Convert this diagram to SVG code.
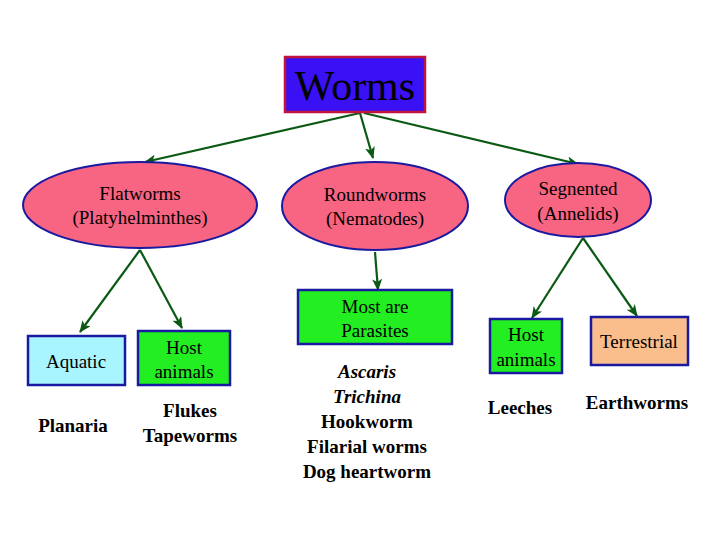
<svg xmlns="http://www.w3.org/2000/svg" width="720" height="540" viewBox="0 0 720 540">
<style>
text{font-family:"Liberation Serif",serif;fill:#000;text-anchor:middle}
.n{font-size:19px}
.b{font-size:19px;font-weight:bold}
.e{fill:#F76582;stroke:#1a1aa0;stroke-width:2}
.g{fill:#22EE22;stroke:#1a1aa0;stroke-width:2.5}
.c{stroke:#0b5a14;stroke-width:2.2;fill:none;marker-end:url(#a)}
</style>
<defs><marker id="a" markerWidth="12" markerHeight="10" refX="11" refY="5" orient="auto" markerUnits="userSpaceOnUse"><path d="M0,0L12,5L0,10L3,5Z" fill="#0b5a14"/></marker></defs>
<rect width="720" height="540" fill="#fff"/>
<g id="connectors">
<line class="c" x1="360" y1="113" x2="145" y2="162"/>
<line class="c" x1="360" y1="113" x2="373" y2="158"/>
<line class="c" x1="364" y1="113" x2="578" y2="164"/>
<line class="c" x1="140" y1="250" x2="80" y2="332"/>
<line class="c" x1="140" y1="250" x2="182" y2="328"/>
<line class="c" x1="375" y1="252" x2="378" y2="290"/>
<line class="c" x1="583" y1="238" x2="532" y2="318"/>
<line class="c" x1="583" y1="238" x2="637" y2="316"/>
</g>
<g id="worms"><rect x="285" y="57" width="140" height="55" fill="#3A10F5" stroke="#C0143C" stroke-width="2.5"/><text x="355" y="100" style="font-size:42px">Worms</text></g>
<g id="flatworms"><ellipse class="e" cx="140" cy="205" rx="117" ry="43"/><text class="n" x="140" y="200">Flatworms</text><text class="n" x="140" y="224">(Platyhelminthes)</text></g>
<g id="roundworms"><ellipse class="e" cx="375" cy="206" rx="93" ry="44"/><text class="n" x="375" y="201">Roundworms</text><text class="n" x="375" y="225">(Nematodes)</text></g>
<g id="segmented"><ellipse class="e" cx="578" cy="200" rx="73" ry="37"/><text class="n" x="578" y="195">Segnented</text><text class="n" x="578" y="220">(Annelids)</text></g>
<g id="aquatic"><rect x="28" y="336" width="97" height="49" fill="#A8F4FF" stroke="#1a1aa0" stroke-width="2.5"/><text class="n" x="76" y="368">Aquatic</text></g>
<g id="host1"><rect class="g" x="138" y="331" width="92" height="54"/><text class="n" x="184" y="354">Host</text><text class="n" x="184" y="378">animals</text></g>
<g id="parasites"><rect class="g" x="298" y="290" width="154" height="54"/><text class="n" x="375" y="313">Most are</text><text class="n" x="375" y="337">Parasites</text></g>
<g id="host2"><rect class="g" x="490" y="319" width="72" height="54"/><text class="n" x="526" y="341">Host</text><text class="n" x="526" y="366">animals</text></g>
<g id="terrestrial"><rect x="591" y="317" width="97" height="48" fill="#F9BE8C" stroke="#1a1aa0" stroke-width="2.5"/><text class="n" x="639" y="348">Terrestrial</text></g>
<g id="examples">
<text class="b" x="73" y="432">Planaria</text>
<text class="b" x="190" y="417">Flukes</text>
<text class="b" x="190" y="442">Tapeworms</text>
<text class="b" x="367" y="378" font-style="italic">Ascaris</text>
<text class="b" x="367" y="403" font-style="italic">Trichina</text>
<text class="b" x="367" y="428">Hookworm</text>
<text class="b" x="367" y="453">Filarial worms</text>
<text class="b" x="367" y="478">Dog heartworm</text>
<text class="b" x="520" y="414">Leeches</text>
<text class="b" x="637" y="409">Earthworms</text>
</g>
</svg>
